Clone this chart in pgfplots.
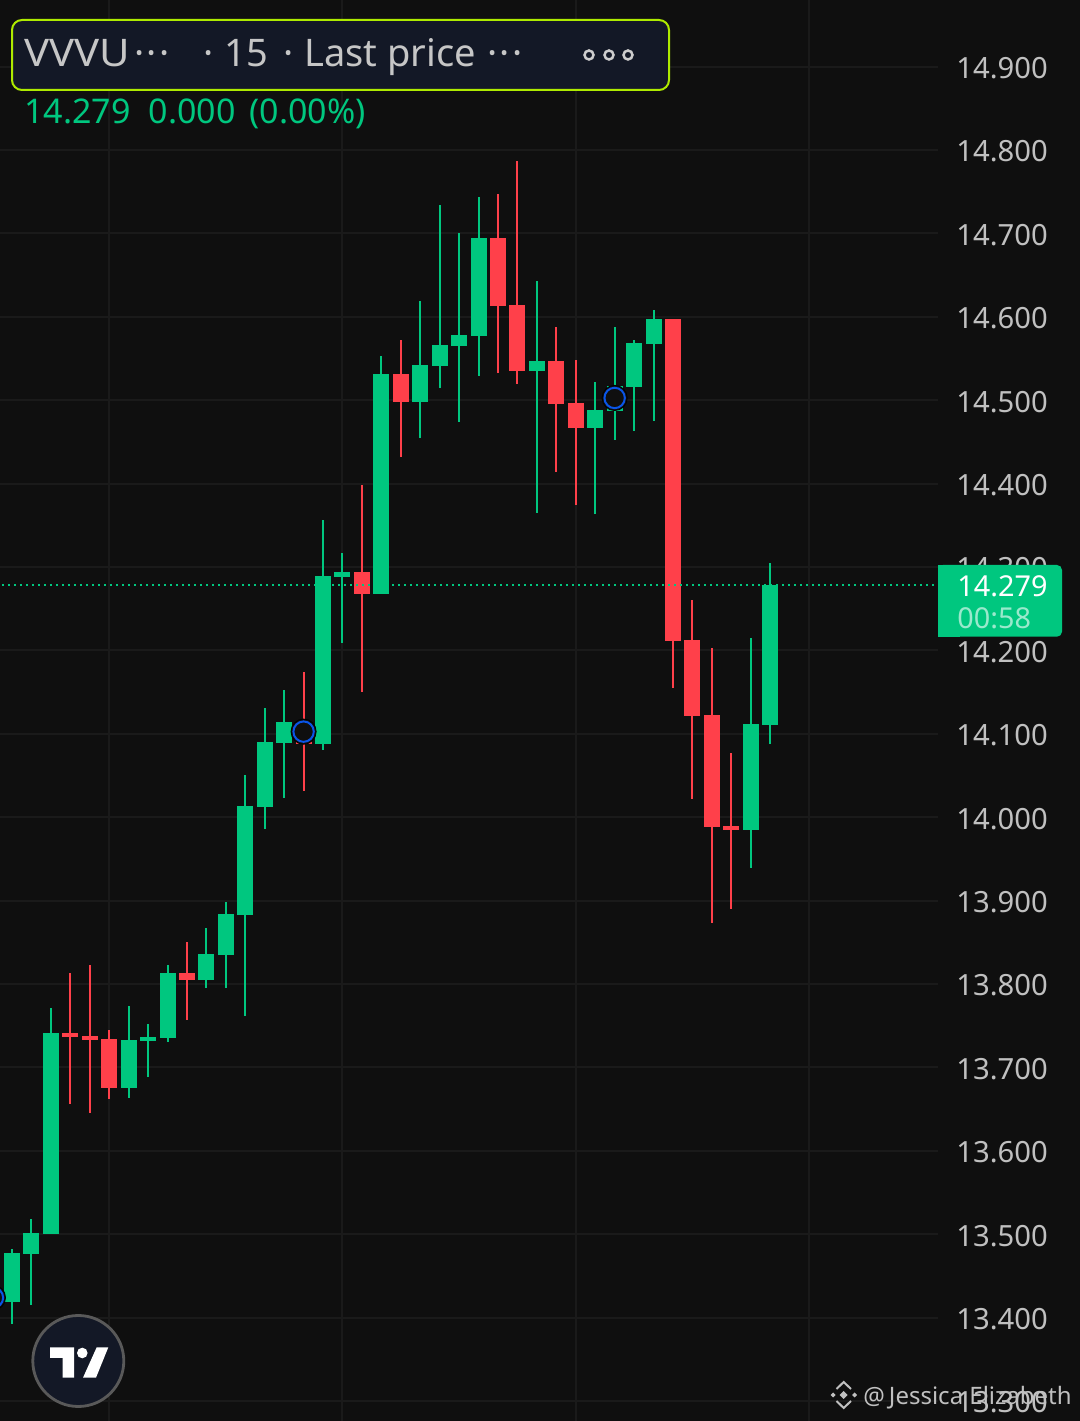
\documentclass[border=0pt]{standalone}
\usepackage{pgfplots}
\pgfplotsset{compat=1.18}
\usepackage{fontspec}
\setmainfont{Noto Sans}
\definecolor{bg}{HTML}{0F0F0F}
\definecolor{gridc}{HTML}{1A1A1A}
\definecolor{upc}{HTML}{00C77F}
\definecolor{downc}{HTML}{FF404A}
\definecolor{lab}{HTML}{C0C0C0}
\definecolor{panel}{HTML}{131826}
\definecolor{lime}{HTML}{AEEA00}
\definecolor{bluec}{HTML}{0A55E8}
\begin{document}
\begin{tikzpicture}
\path[use as bounding box] (0pt,0pt) rectangle (540pt,710.5pt);
\clip (0pt,0pt) rectangle (540pt,710.5pt);
\fill[bg] (0pt,0pt) rectangle (540pt,710.5pt);
\begin{axis}[
  at={(-20pt,0pt)}, anchor=south west,
  scale only axis, width=489pt, height=710.5pt,
  xmin=-2.6749, xmax=47.634, ymin=13.27614, ymax=14.97998,
  unbounded coords=jump,
  axis line style={draw=none},
  major tick length=0pt,
  xtick={5,17,29,41}, xticklabels={,,,},
  ytick={13.3,13.4,13.5,13.6,13.7,13.8,13.9,14.0,14.1,14.2,14.3,14.4,14.5,14.6,14.7,14.8,14.9},
  yticklabel pos=right,
  yticklabel style={anchor=west, inner xsep=0pt, xshift=9pt, yshift=-0.75pt, text=lab, font=\fontsize{14.6}{16}\selectfont,
    /pgf/number format/.cd, fixed, fixed zerofill, precision=3, assume math mode=true},
  grid=major,
  grid style={line width=1pt, color=gridc},
]
% green wicks: low, high
\addplot[upc, line width=1pt, line cap=butt, forget plot] coordinates {
(0,13.3928)(0,13.4824)(0,nan)
(1,13.4156)(1,13.5184)(1,nan)
(2,13.5007)(2,13.7710)(2,nan)
(6,13.6638)(6,13.7738)(6,nan)
(7,13.6886)(7,13.7522)(7,nan)
(8,13.7310)(8,13.8229)(8,nan)
(10,13.7957)(10,13.8673)(10,nan)
(11,13.7957)(11,13.8985)(11,nan)
(12,13.7618)(12,14.0507)(12,nan)
(13,13.9860)(13,14.1311)(13,nan)
(14,14.0232)(14,14.1527)(14,nan)
(16,14.0807)(16,14.3565)(16,nan)
(17,14.2090)(17,14.3169)(17,nan)
(19,14.2678)(19,14.5531)(19,nan)
(21,14.4548)(21,14.6191)(21,nan)
(22,14.5148)(22,14.7342)(22,nan)
(23,14.4740)(23,14.7006)(23,nan)
(24,14.5292)(24,14.7438)(24,nan)
(27,14.3649)(27,14.6431)(27,nan)
(30,14.3637)(30,14.5220)(30,nan)
(31,14.4524)(31,14.5879)(31,nan)
(32,14.4632)(32,14.5723)(32,nan)
(33,14.4752)(33,14.6083)(33,nan)
(38,13.9396)(38,14.2150)(38,nan)
(39,14.0883)(39,14.3049)
};
% red wicks: low, high
\addplot[downc, line width=1pt, line cap=butt, forget plot] coordinates {
(3,13.6566)(3,13.8133)(3,nan)
(4,13.6458)(4,13.8229)(4,nan)
(5,13.6626)(5,13.7450)(5,nan)
(9,13.7573)(9,13.8505)(9,nan)
(15,14.0316)(15,14.1742)(15,nan)
(18,14.1503)(18,14.3985)(18,nan)
(20,14.4320)(20,14.5723)(20,nan)
(25,14.5328)(25,14.7474)(25,nan)
(26,14.5196)(26,14.7870)(26,nan)
(28,14.4141)(28,14.5879)(28,nan)
(29,14.3745)(29,14.5483)(29,nan)
(34,14.1554)(34,14.5975)(34,nan)
(35,14.0223)(35,14.2606)(35,nan)
(36,13.8737)(36,14.2030)(36,nan)
(37,13.8904)(37,14.0771)
};
% green bodies: open, close
\addplot[upc, line width=8pt, line cap=butt, forget plot] coordinates {
(0,13.4192)(0,13.4776)(0,nan)
(1,13.4768)(1,13.5016)(1,nan)
(2,13.5007)(2,13.7414)(2,nan)
(6,13.6758)(6,13.7330)(6,nan)
(7,13.7318)(7,13.7366)(7,nan)
(8,13.7354)(8,13.8133)(8,nan)
(10,13.8049)(10,13.8361)(10,nan)
(11,13.8349)(11,13.8841)(11,nan)
(12,13.8829)(12,14.0136)(12,nan)
(13,14.0124)(13,14.0903)(13,nan)
(14,14.0891)(14,14.1143)(14,nan)
(16,14.0879)(16,14.2894)(16,nan)
(17,14.2882)(17,14.2942)(17,nan)
(19,14.2678)(19,14.5316)(19,nan)
(21,14.4980)(21,14.5424)(21,nan)
(22,14.5412)(22,14.5663)(22,nan)
(23,14.5651)(23,14.5783)(23,nan)
(24,14.5771)(24,14.6946)(24,nan)
(27,14.5352)(27,14.5471)(27,nan)
(30,14.4668)(30,14.4884)(30,nan)
(31,14.4872)(31,14.5172)(31,nan)
(32,14.5160)(32,14.5687)(32,nan)
(33,14.5675)(33,14.5975)(33,nan)
(38,13.9852)(38,14.1119)(38,nan)
(39,14.1111)(39,14.2789)
};
% red bodies: close, open
\addplot[downc, line width=8pt, line cap=butt, forget plot] coordinates {
(3,13.7366)(3,13.7414)(3,nan)
(4,13.7330)(4,13.7378)(4,nan)
(5,13.6758)(5,13.7342)(5,nan)
(9,13.8049)(9,13.8133)(9,nan)
(15,14.0883)(15,14.1095)(15,nan)
(18,14.2678)(18,14.2942)(18,nan)
(20,14.4980)(20,14.5316)(20,nan)
(25,14.6131)(25,14.6946)(25,nan)
(26,14.5352)(26,14.6143)(26,nan)
(28,14.4956)(28,14.5471)(28,nan)
(29,14.4668)(29,14.4968)(29,nan)
(34,14.2118)(34,14.5975)(34,nan)
(35,14.1219)(35,14.2126)(35,nan)
(36,13.9888)(36,14.1227)(36,nan)
(37,13.9848)(37,13.9896)
};
% last price line
\addplot[upc, line width=1pt, dash pattern=on 1pt off 2pt, forget plot] coordinates {(-2.6749,14.2789)(47.634,14.2789)};
% event markers
\addplot[only marks, mark=*, mark size=6.3pt, mark options={draw=none, fill=bg}, forget plot] coordinates {(-0.98,13.4240)(15,14.1027)(31,14.5028)};
\addplot[only marks, mark=*, mark size=5.1pt, mark options={draw=bluec, fill=bg, line width=1pt}, forget plot] coordinates {(-0.98,13.4240)(15,14.1027)(31,14.5028)};
\end{axis}
\begin{scope}[shift={(0pt,710.5pt)},x=0.5pt,y=-0.5pt]
% header panel
\draw[draw=lime, fill=panel, line width=1pt, rounded corners=5pt] (12,20) rectangle (669,90);
\begin{scope}[every node/.style={inner sep=0pt, anchor=base west, text=lab!90!white, font=\fontsize{19}{22}\selectfont}]
\node at (24,67) {\scalebox{1.1}[1]{VVVU}};
\node at (134,67) {·\kern1.2pt·\kern1.2pt·};
\node at (203,67) {·};
\node at (224,67) {15};
\node at (283,67) {·};
\node at (304,67) {Last price};
\node at (487,67) {·\kern1.2pt·\kern1.2pt·};
\end{scope}
\foreach \cx in {589,609,628}{\draw[draw=lab!80!white, line width=1.25pt] (\cx,55) circle[radius=4.5];}
\node[inner sep=0pt, anchor=base west, text=upc, font=\fontsize{17}{20}\selectfont] at (24,124) {14.279\hspace{9pt}0.000\hspace{2.5pt} (0.00\%)};
% price tag
\fill[upc, rounded corners=2.5pt] (938,565) -- (1062,565) -- (1062,636.7) -- (938,636.7) -- cycle;
\fill[upc] (938,565) rectangle (960,636.7);
\node[inner sep=0pt, anchor=base west, text=white, font=\fontsize{14.4}{16}\selectfont] at (957,596.5) {14.279};
\node[inner sep=0pt, anchor=base west, text=white!60!upc, font=\fontsize{14.4}{16}\selectfont] at (957,628.5) {00:58};
% logo
\draw[draw=black!65!white, fill=panel, line width=1.4pt] (78.3,1361) circle[radius=45.5];
\fill[white] (50,1347.3) -- (74,1347.3) -- (74,1377.7) -- (62.7,1377.7) -- (62.7,1358) -- (50,1358) -- cycle;
\fill[white] (82.3,1353) circle[radius=5.3];
\fill[white] (96.7,1347.3) -- (108.3,1347.3) -- (96,1377.7) -- (83,1377.7) -- cycle;
% watermark
\begin{scope}[draw=lab, line width=1pt]
\draw (836.5,1389) -- (843.7,1382) -- (851,1389);
\draw (836.5,1401) -- (843.7,1408) -- (851,1401);
\fill[lab] (843.7,1391) -- (847.7,1395) -- (843.7,1399) -- (839.7,1395) -- cycle;
\fill[lab] (833,1392.5) -- (835.5,1395) -- (833,1397.5) -- (830.5,1395) -- cycle;
\fill[lab] (854.5,1392.5) -- (857,1395) -- (854.5,1397.5) -- (852,1395) -- cycle;
\end{scope}
\node[inner sep=0pt, anchor=base west, text=lab, font=\fontsize{12}{14}\selectfont] at (863,1404) {@\hspace{2pt}Jessica Elizabeth};
\end{scope}
\end{tikzpicture}
\end{document}
